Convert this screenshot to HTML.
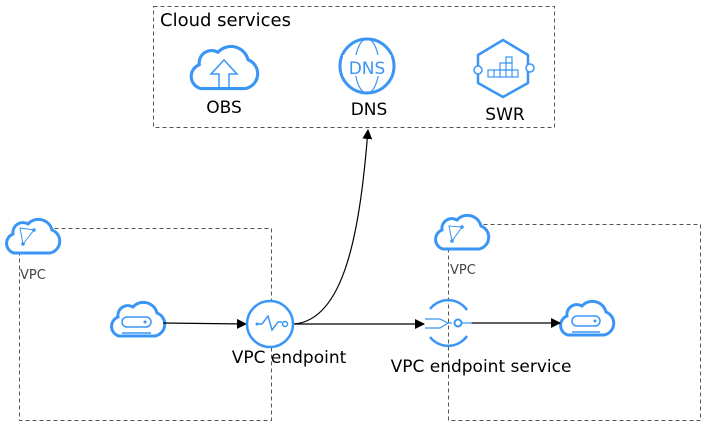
<!DOCTYPE html>
<html><head><meta charset="utf-8"><style>body{margin:0;background:#fff}svg{display:block}text{font-family:"DejaVu Sans","Liberation Sans",sans-serif}</style></head><body>
<svg width="711" height="425" viewBox="0 0 711 425" xmlns="http://www.w3.org/2000/svg">
<defs><marker id="a" markerWidth="10" markerHeight="10" refX="9" refY="5" orient="auto" markerUnits="userSpaceOnUse"><path d="M0,0 L10,5 L0,10 z" fill="#000"/></marker>
<g id="cloud"><path d="M-18,14 H18 A12,12 0 0 0 20,-9 A14,14 0 0 0 -4,-15 A10,10 0 0 0 -19,-5 A10,10 0 0 0 -18,14 Z" fill="#fff" stroke="#3a95f5" stroke-width="3"/></g>
</defs>
<g fill="none" stroke="#555" stroke-dasharray="4,3" stroke-width="1">
<rect x="153.5" y="6.5" width="401" height="121"/>
<rect x="19.5" y="228.5" width="252" height="192"/>
<rect x="448.5" y="224.5" width="252" height="196"/>
</g>
<text x="160" y="26" font-size="18" fill="#000">Cloud services</text>
<!-- OBS -->
<g transform="translate(223,71) scale(1.25)"><path d="M-18,14 H18 A12,12 0 0 0 20,-9 A14,14 0 0 0 -4,-15 A10,10 0 0 0 -19,-5 A10,10 0 0 0 -18,14 Z" fill="#fff" stroke="#3a95f5" stroke-width="2.5"/></g>
<path d="M224,60 L211,74 H219 V89 H229 V74 H237 Z" fill="none" stroke="#3a95f5" stroke-width="1.5"/>
<text x="224" y="113" font-size="17" text-anchor="middle">OBS</text>
<!-- DNS -->
<circle cx="367" cy="66" r="27" fill="none" stroke="#3a95f5" stroke-width="3"/>
<ellipse cx="367" cy="66" rx="12" ry="27" fill="none" stroke="#3a95f5" stroke-width="1.2"/>
<rect x="343" y="55" width="48" height="21" fill="#fff"/>
<text x="367" y="74" font-size="17" fill="#3a95f5" text-anchor="middle" font-family="Liberation Sans">DNS</text>
<text x="369" y="115" font-size="17" text-anchor="middle">DNS</text>
<!-- SWR -->
<path d="M503,40 L528,55 V83 L503,97 L478,83 V55 Z" fill="none" stroke="#3a95f5" stroke-width="2.5" stroke-linejoin="round"/>
<circle cx="478" cy="70" r="4" fill="#fff" stroke="#3a95f5" stroke-width="1.5"/>
<circle cx="530" cy="68" r="4" fill="#fff" stroke="#3a95f5" stroke-width="1.5"/>
<g fill="none" stroke="#3a95f5" stroke-width="1.2"><rect x="488" y="70" width="30" height="7"/><rect x="500" y="63" width="12" height="7"/><rect x="506" y="57" width="6" height="6"/><path d="M494,70v7M500,70v7M506,63v14M512,70v7"/></g>
<text x="505" y="120" font-size="17" text-anchor="middle">SWR</text>
<!-- left VPC icon -->
<use href="#cloud" x="32" y="239"/>
<path d="M23,244 L20,228 L34,230 Z" fill="none" stroke="#3a95f5" stroke-width="1"/>
<circle cx="23" cy="244" r="1.8" fill="#3a95f5"/><circle cx="34" cy="230" r="1.8" fill="#3a95f5"/>
<text x="20" y="279" font-size="13" fill="#444">VPC</text>
<!-- right VPC icon -->
<use href="#cloud" x="461" y="235"/>
<path d="M452,241 L449,226 L462,227 Z" fill="none" stroke="#3a95f5" stroke-width="1"/>
<circle cx="452" cy="241" r="1.8" fill="#3a95f5"/><circle cx="462" cy="227" r="1.8" fill="#3a95f5"/>
<text x="450" y="274" font-size="13" fill="#444">VPC</text>
<!-- left server cloud -->
<use href="#cloud" x="137" y="322"/>
<rect x="122" y="317" width="29" height="10" rx="5" fill="none" stroke="#3a95f5" stroke-width="1.5"/>
<circle cx="145" cy="322" r="1.5" fill="#3a95f5"/>
<path d="M122,333 H151" stroke="#3a95f5" stroke-width="1.5"/>
<!-- right server cloud -->
<use href="#cloud" x="586" y="321"/>
<rect x="572" y="316" width="28" height="10" rx="5" fill="none" stroke="#3a95f5" stroke-width="1.5"/>
<circle cx="595" cy="321" r="1.5" fill="#3a95f5"/>
<path d="M572,332 H600" stroke="#3a95f5" stroke-width="1.5"/>
<!-- connectors -->
<g stroke="#000" stroke-width="1.2" fill="none">
<path d="M163,323 L246,324" marker-end="url(#a)"/>
<path d="M294,324 C345,320 360,230 368,130" marker-end="url(#a)"/>
<path d="M294,324 L424,324" marker-end="url(#a)"/>
<path d="M471,323 L560,323" marker-end="url(#a)"/>
</g>
<!-- VPC endpoint -->
<circle cx="270" cy="324" r="23" fill="#fff" stroke="#3a95f5" stroke-width="2.5"/>
<path d="M258,324 H262 L268,316 L272,330 L278,322 H282" fill="none" stroke="#3a95f5" stroke-width="1.5"/>
<circle cx="257" cy="324" r="1.5" fill="#3a95f5"/>
<circle cx="285" cy="324" r="2.5" fill="#fff" stroke="#3a95f5" stroke-width="1.5"/>
<text x="289" y="363" font-size="17" text-anchor="middle">VPC endpoint</text>
<!-- VPC endpoint service -->
<path d="M430,309 A23,23 0 0 1 467,310 M430,337 A23,23 0 0 0 467,336" fill="none" stroke="#3a95f5" stroke-width="2.5"/>
<path d="M425,319 H440 L448,323 L440,328 H425 M448,323 H452 M462,323 H472" fill="none" stroke="#3a95f5" stroke-width="1.2"/>
<circle cx="458" cy="323" r="3.5" fill="#fff" stroke="#3a95f5" stroke-width="2"/>
<text x="481" y="372" font-size="17" text-anchor="middle">VPC endpoint service</text>
</svg>
</body></html>
